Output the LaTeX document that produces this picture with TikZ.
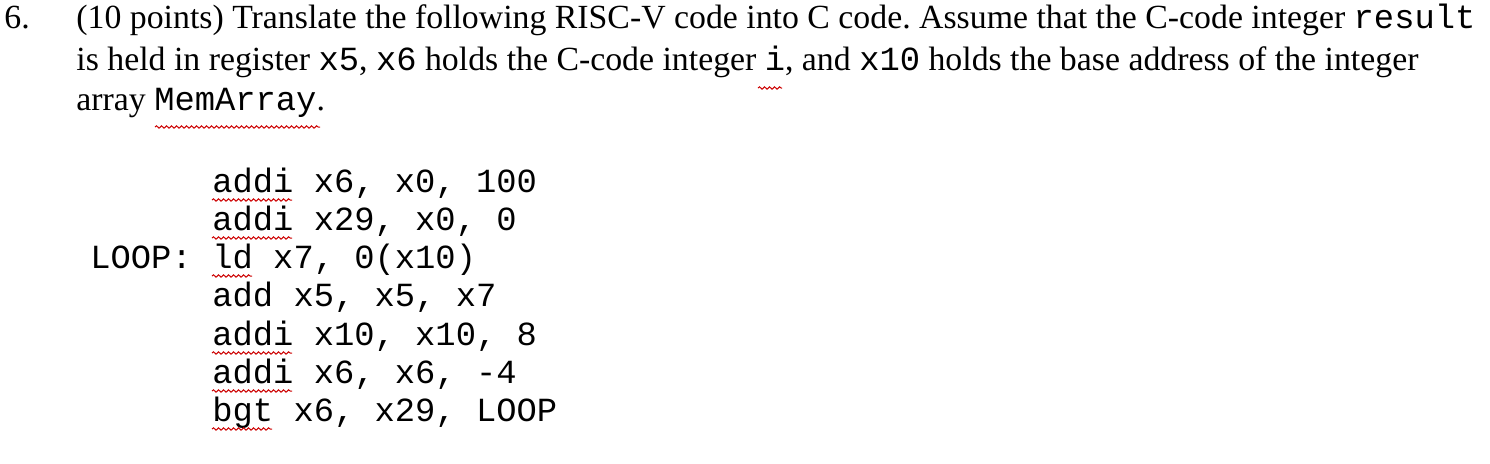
\documentclass[tikz,border=0pt]{standalone}
\usepackage{fontspec}
\setmainfont{Liberation Serif}
\setmonofont{Liberation Mono}
\usetikzlibrary{decorations.pathmorphing}
\frenchspacing
\begin{document}
\begin{tikzpicture}[x=0.5pt,y=-0.5pt,
  txt/.style={anchor=base west,inner sep=0pt,font=\fontsize{16.9}{20}\selectfont},
  code/.style={anchor=base west,inner sep=0pt,font=\fontsize{16.9}{20}\ttfamily},
  squig/.style={red!80!black,line width=0.5pt,decorate,decoration={snake,amplitude=0.6pt,segment length=2.5pt}}]
\useasboundingbox (0,0) rectangle (1490,463);
\node[txt] (n) at (4,28) {6.};
\node[txt] (l1) at (76,28) {(10 points) Translate the following RISC-V code into C code. Assume that the C-code integer \texttt{result}};
\node[txt] (l2) at (76,70) {is held in register \texttt{x5}, \texttt{x6} holds the C-code integer \texttt{i}, and \texttt{x10} holds the base address of the integer};
\node[txt] (l3) at (76,110) {array \texttt{MemArray}.};
\node[code] (c1) at (212,192) {addi x6, x0, 100};
\node[code] (c2) at (212,230) {addi x29, x0, 0};
\node[code] (lp) at (90,268) {LOOP:};
\node[code] (c3) at (212,268) {ld x7, 0(x10)};
\node[code] (c4) at (212,306) {add x5, x5, x7};
\node[code] (c5) at (212,345) {addi x10, x10, 8};
\node[code] (c6) at (212,383) {addi x6, x6, -4};
\node[code] (c7) at (212,421) {bgt x6, x29, LOOP};
\draw[squig] (758,88) -- (782,88);
\draw[squig] (155,127) -- (320,127);
\draw[squig] (212,200) -- (292,200);
\draw[squig] (212,238) -- (292,238);
\draw[squig] (212,276) -- (252,276);
\draw[squig] (212,353) -- (292,353);
\draw[squig] (212,391) -- (292,391);
\draw[squig] (212,429) -- (272,429);
\end{tikzpicture}
\end{document}
